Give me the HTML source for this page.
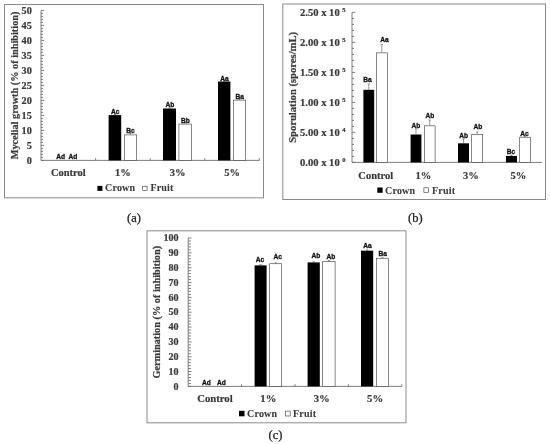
<!DOCTYPE html>
<html><head><meta charset="utf-8"><title>Figure</title>
<style>
html,body{margin:0;padding:0;background:#fff;}
svg{display:block;}
.b{font-family:"Liberation Serif",serif;font-weight:bold;fill:#3a3a3a;stroke:#3a3a3a;stroke-width:0.2px;}
.l{letter-spacing:0.2px;stroke-width:0.08px;}
.d{font-family:"Liberation Sans","DejaVu Sans",sans-serif;font-weight:bold;font-size:6.6px;fill:#111;stroke:#111;stroke-width:0.3px;}
.c{font-family:"Liberation Serif",serif;font-size:12.5px;fill:#222;stroke:#222;stroke-width:0.25px;}
</style></head><body>
<svg width="550" height="444" viewBox="0 0 550 444">
<rect width="550" height="444" fill="#fff"/>
<rect x="4.5" y="4.5" width="259" height="193.3" fill="#fff" stroke="#8a8a8a" stroke-width="1"/>
<path d="M41 10.4V160.4H259.4" fill="none" stroke="#6f6f6f" stroke-width="0.9"/>
<path d="M41 160.4h3.2M41 157.4h2M41 154.4h2M41 151.4h2M41 148.4h2M41 145.4h3.2M41 142.4h2M41 139.4h2M41 136.4h2M41 133.4h2M41 130.4h3.2M41 127.4h2M41 124.4h2M41 121.4h2M41 118.4h2M41 115.4h3.2M41 112.4h2M41 109.4h2M41 106.4h2M41 103.4h2M41 100.4h3.2M41 97.4h2M41 94.4h2M41 91.4h2M41 88.4h2M41 85.4h3.2M41 82.4h2M41 79.4h2M41 76.4h2M41 73.4h2M41 70.4h3.2M41 67.4h2M41 64.4h2M41 61.4h2M41 58.4h2M41 55.4h3.2M41 52.4h2M41 49.4h2M41 46.4h2M41 43.4h2M41 40.4h3.2M41 37.4h2M41 34.4h2M41 31.4h2M41 28.4h2M41 25.4h3.2M41 22.4h2M41 19.4h2M41 16.4h2M41 13.4h2M41 10.4h3.2M95.6 160.4v-2.2M150.2 160.4v-2.2M204.8 160.4v-2.2M259.4 160.4v-2.2" fill="none" stroke="#6f6f6f" stroke-width="0.9"/>
<text transform="translate(31.8 163.52) scale(1.1 1)" text-anchor="end" class="b" font-size="9.3">0</text>
<text transform="translate(31.8 148.52) scale(1.1 1)" text-anchor="end" class="b" font-size="9.3">5</text>
<text transform="translate(31.8 133.52) scale(1.1 1)" text-anchor="end" class="b" font-size="9.3">10</text>
<text transform="translate(31.8 118.52) scale(1.1 1)" text-anchor="end" class="b" font-size="9.3">15</text>
<text transform="translate(31.8 103.52) scale(1.1 1)" text-anchor="end" class="b" font-size="9.3">20</text>
<text transform="translate(31.8 88.52) scale(1.1 1)" text-anchor="end" class="b" font-size="9.3">25</text>
<text transform="translate(31.8 73.52) scale(1.1 1)" text-anchor="end" class="b" font-size="9.3">30</text>
<text transform="translate(31.8 58.52) scale(1.1 1)" text-anchor="end" class="b" font-size="9.3">35</text>
<text transform="translate(31.8 43.52) scale(1.1 1)" text-anchor="end" class="b" font-size="9.3">40</text>
<text transform="translate(31.8 28.52) scale(1.1 1)" text-anchor="end" class="b" font-size="9.3">45</text>
<text transform="translate(31.8 13.52) scale(1.1 1)" text-anchor="end" class="b" font-size="9.3">50</text>
<text transform="translate(18.1 85.4) rotate(-90) scale(1.05 1)" text-anchor="middle" class="b" font-size="9.8">Mycelial growth (% of inhibition)</text>
<rect x="108.6" y="115.1" width="12.6" height="45.3" fill="#000"/>
<rect x="124.3" y="134.9" width="12.4" height="25.5" fill="#fff" stroke="#3a3a3a" stroke-width="0.6"/>
<rect x="163" y="108.5" width="13" height="51.9" fill="#000"/>
<rect x="178.9" y="124.1" width="12.4" height="36.3" fill="#fff" stroke="#3a3a3a" stroke-width="0.6"/>
<rect x="218" y="81.5" width="12.4" height="78.9" fill="#000"/>
<rect x="233.3" y="100.1" width="12.4" height="60.3" fill="#fff" stroke="#3a3a3a" stroke-width="0.6"/>
<path d="M130.5 134.6V133.4M129.3 133.4h2.4M185.1 123.8V122.8M183.9 122.8h2.4M239.5 99.8V99M238.3 99h2.4M114.9 115.1V114.5M113.7 114.5h2.4M169.5 108.5V107.9M168.3 107.9h2.4M224.2 81.5V80.9M223 80.9h2.4" fill="none" stroke="#555" stroke-width="0.6"/>
<text x="60.7" y="159.2" text-anchor="middle" class="d">Ad</text>
<text x="73" y="159.2" text-anchor="middle" class="d">Ad</text>
<text x="115.2" y="114.2" text-anchor="middle" class="d">Ac</text>
<text x="130.4" y="133" text-anchor="middle" class="d">Bc</text>
<text x="169.8" y="107.4" text-anchor="middle" class="d">Ab</text>
<text x="185.4" y="122.6" text-anchor="middle" class="d">Bb</text>
<text x="224.4" y="80.6" text-anchor="middle" class="d">Aa</text>
<text x="239.6" y="98.8" text-anchor="middle" class="d">Ba</text>
<text transform="translate(68.3 176) scale(1.05 1)" text-anchor="middle" class="b" font-size="10">Control</text>
<text transform="translate(122.9 176) scale(1.05 1)" text-anchor="middle" class="b" font-size="10">1%</text>
<text transform="translate(177.5 176) scale(1.05 1)" text-anchor="middle" class="b" font-size="10">3%</text>
<text transform="translate(232.1 176) scale(1.05 1)" text-anchor="middle" class="b" font-size="10">5%</text>
<rect x="97.4" y="185.9" width="5" height="5" fill="#000"/>
<text x="105" y="191.3" class="b l" font-size="10">Crown</text>
<rect x="142.7" y="186.2" width="4.4" height="4.4" fill="#fff" stroke="#333" stroke-width="0.6"/>
<text x="150.4" y="191.3" class="b l" font-size="10">Fruit</text>
<text x="134" y="222.4" text-anchor="middle" class="c">(a)</text>
<rect x="282.8" y="4" width="262.7" height="195.5" fill="#fff" stroke="#8a8a8a" stroke-width="1"/>
<path d="M352 12.4V162.4H542" fill="none" stroke="#6f6f6f" stroke-width="0.9"/>
<path d="M352 162.4h3.2M352 156.4h2M352 150.4h2M352 144.4h2M352 138.4h2M352 132.4h3.2M352 126.4h2M352 120.4h2M352 114.4h2M352 108.4h2M352 102.4h3.2M352 96.4h2M352 90.4h2M352 84.4h2M352 78.4h2M352 72.4h3.2M352 66.4h2M352 60.4h2M352 54.4h2M352 48.4h2M352 42.4h3.2M352 36.4h2M352 30.4h2M352 24.4h2M352 18.4h2M352 12.4h3.2" fill="none" stroke="#6f6f6f" stroke-width="0.9"/>
<text transform="translate(345.6 165.75) scale(1.06 1)" text-anchor="end" class="b" font-size="10">0.00 x 10 <tspan font-size="6.2" dy="-3.6">0</tspan></text>
<text transform="translate(345.6 135.75) scale(1.06 1)" text-anchor="end" class="b" font-size="10">5.00 x 10 <tspan font-size="6.2" dy="-3.6">4</tspan></text>
<text transform="translate(345.6 105.75) scale(1.06 1)" text-anchor="end" class="b" font-size="10">1.00 x 10 <tspan font-size="6.2" dy="-3.6">5</tspan></text>
<text transform="translate(345.6 75.75) scale(1.06 1)" text-anchor="end" class="b" font-size="10">1.50 x 10 <tspan font-size="6.2" dy="-3.6">5</tspan></text>
<text transform="translate(345.6 45.75) scale(1.06 1)" text-anchor="end" class="b" font-size="10">2.00 x 10 <tspan font-size="6.2" dy="-3.6">5</tspan></text>
<text transform="translate(345.6 15.75) scale(1.06 1)" text-anchor="end" class="b" font-size="10">2.50 x 10 <tspan font-size="6.2" dy="-3.6">5</tspan></text>
<text transform="translate(296.2 87.4) rotate(-90) scale(1.02 1)" text-anchor="middle" class="b" font-size="10.4">Sporulation (spores/mL)</text>
<rect x="363.4" y="89.8" width="10.8" height="72.6" fill="#000"/>
<rect x="376.3" y="52.9" width="11.4" height="109.5" fill="#fff" stroke="#3a3a3a" stroke-width="0.6"/>
<rect x="410.6" y="134.5" width="10.8" height="27.9" fill="#000"/>
<rect x="424.3" y="125.8" width="10.8" height="36.6" fill="#fff" stroke="#3a3a3a" stroke-width="0.6"/>
<rect x="458" y="143.32" width="11" height="19.08" fill="#000"/>
<rect x="471.7" y="134.5" width="11" height="27.9" fill="#fff" stroke="#3a3a3a" stroke-width="0.6"/>
<rect x="506" y="155.92" width="11" height="6.48" fill="#000"/>
<rect x="519.7" y="137.2" width="10.8" height="25.2" fill="#fff" stroke="#3a3a3a" stroke-width="0.6"/>
<path d="M368.8 89.8V84M367.6 84h2.4M381.8 52.6V44.6M380.6 44.6h2.4M416 134.5V129M414.8 129h2.4M429.7 125.5V120M428.5 120h2.4M463.5 143.32V139M462.3 139h2.4M477.2 134.2V132M476 132h2.4M511.5 155.92V155.12M510.3 155.12h2.4M525 136.9V136.1M523.8 136.1h2.4" fill="none" stroke="#555" stroke-width="0.6"/>
<text x="367.4" y="82.4" text-anchor="middle" class="d">Ba</text>
<text x="384.4" y="42.4" text-anchor="middle" class="d">Aa</text>
<text x="416" y="128.4" text-anchor="middle" class="d">Ab</text>
<text x="430" y="118.2" text-anchor="middle" class="d">Ab</text>
<text x="463.6" y="138.4" text-anchor="middle" class="d">Ab</text>
<text x="478" y="129.4" text-anchor="middle" class="d">Ab</text>
<text x="511" y="154.4" text-anchor="middle" class="d">Bc</text>
<text x="524.4" y="135.6" text-anchor="middle" class="d">Ac</text>
<text transform="translate(375.75 178.9) scale(1.05 1)" text-anchor="middle" class="b" font-size="10">Control</text>
<text transform="translate(423.25 178.9) scale(1.05 1)" text-anchor="middle" class="b" font-size="10">1%</text>
<text transform="translate(470.75 178.9) scale(1.05 1)" text-anchor="middle" class="b" font-size="10">3%</text>
<text transform="translate(518.25 178.9) scale(1.05 1)" text-anchor="middle" class="b" font-size="10">5%</text>
<rect x="377.3" y="187.5" width="5.3" height="5.3" fill="#000"/>
<text x="385" y="193.7" class="b l" font-size="10">Crown</text>
<rect x="423.9" y="187.8" width="4.7" height="4.7" fill="#fff" stroke="#333" stroke-width="0.6"/>
<text x="432" y="193.7" class="b l" font-size="10">Fruit</text>
<text x="415.4" y="222.4" text-anchor="middle" class="c">(b)</text>
<rect x="147" y="230.8" width="259" height="192" fill="#fff" stroke="#8a8a8a" stroke-width="1"/>
<path d="M188.2 238V386.4H401.8" fill="none" stroke="#6f6f6f" stroke-width="0.9"/>
<path d="M188.2 386.4h3.3M188.2 383.43h2.7M188.2 380.46h2.7M188.2 377.5h2.7M188.2 374.53h2.7M188.2 371.56h3.3M188.2 368.59h2.7M188.2 365.62h2.7M188.2 362.66h2.7M188.2 359.69h2.7M188.2 356.72h3.3M188.2 353.75h2.7M188.2 350.78h2.7M188.2 347.82h2.7M188.2 344.85h2.7M188.2 341.88h3.3M188.2 338.91h2.7M188.2 335.94h2.7M188.2 332.98h2.7M188.2 330.01h2.7M188.2 327.04h3.3M188.2 324.07h2.7M188.2 321.1h2.7M188.2 318.14h2.7M188.2 315.17h2.7M188.2 312.2h3.3M188.2 309.23h2.7M188.2 306.26h2.7M188.2 303.3h2.7M188.2 300.33h2.7M188.2 297.36h3.3M188.2 294.39h2.7M188.2 291.42h2.7M188.2 288.46h2.7M188.2 285.49h2.7M188.2 282.52h3.3M188.2 279.55h2.7M188.2 276.58h2.7M188.2 273.62h2.7M188.2 270.65h2.7M188.2 267.68h3.3M188.2 264.71h2.7M188.2 261.74h2.7M188.2 258.78h2.7M188.2 255.81h2.7M188.2 252.84h3.3M188.2 249.87h2.7M188.2 246.9h2.7M188.2 243.94h2.7M188.2 240.97h2.7M188.2 238h3.3M241.6 386.4v-2.2M295 386.4v-2.2M348.4 386.4v-2.2M401.8 386.4v-2.2" fill="none" stroke="#6f6f6f" stroke-width="0.9"/>
<text transform="translate(178.6 389.62) scale(1.05 1)" text-anchor="end" class="b" font-size="9.6">0</text>
<text transform="translate(178.6 374.78) scale(1.05 1)" text-anchor="end" class="b" font-size="9.6">10</text>
<text transform="translate(178.6 359.94) scale(1.05 1)" text-anchor="end" class="b" font-size="9.6">20</text>
<text transform="translate(178.6 345.1) scale(1.05 1)" text-anchor="end" class="b" font-size="9.6">30</text>
<text transform="translate(178.6 330.26) scale(1.05 1)" text-anchor="end" class="b" font-size="9.6">40</text>
<text transform="translate(178.6 315.42) scale(1.05 1)" text-anchor="end" class="b" font-size="9.6">50</text>
<text transform="translate(178.6 300.58) scale(1.05 1)" text-anchor="end" class="b" font-size="9.6">60</text>
<text transform="translate(178.6 285.74) scale(1.05 1)" text-anchor="end" class="b" font-size="9.6">70</text>
<text transform="translate(178.6 270.9) scale(1.05 1)" text-anchor="end" class="b" font-size="9.6">80</text>
<text transform="translate(178.6 256.06) scale(1.05 1)" text-anchor="end" class="b" font-size="9.6">90</text>
<text transform="translate(178.6 241.22) scale(1.05 1)" text-anchor="end" class="b" font-size="9.6">100</text>
<text transform="translate(159.9 312.2) rotate(-90) scale(1.07 1)" text-anchor="middle" class="b" font-size="9.6">Germination (% of inhibition)</text>
<rect x="254.6" y="265.37" width="12" height="121.03" fill="#000"/>
<rect x="269.7" y="263.74" width="12" height="122.66" fill="#fff" stroke="#3a3a3a" stroke-width="0.6"/>
<rect x="307.6" y="262.4" width="12.2" height="124" fill="#000"/>
<rect x="322.7" y="261.37" width="12.4" height="125.03" fill="#fff" stroke="#3a3a3a" stroke-width="0.6"/>
<rect x="361" y="250.67" width="12.2" height="135.73" fill="#000"/>
<rect x="376.3" y="258.25" width="12.4" height="128.15" fill="#fff" stroke="#3a3a3a" stroke-width="0.6"/>
<path d="M260.6 265.37V264.67M259.4 264.67h2.4M275.7 263.44V262.74M274.5 262.74h2.4M313.7 262.4V261.7M312.5 261.7h2.4M328.9 261.07V260.37M327.7 260.37h2.4M367.1 250.67V249.97M365.9 249.97h2.4M382.5 257.95V257.25M381.3 257.25h2.4" fill="none" stroke="#555" stroke-width="0.6"/>
<text x="206.4" y="385" text-anchor="middle" class="d">Ad</text>
<text x="221.3" y="385" text-anchor="middle" class="d">Ad</text>
<text x="260" y="262.4" text-anchor="middle" class="d">Ac</text>
<text x="277.6" y="259" text-anchor="middle" class="d">Ac</text>
<text x="316" y="257.6" text-anchor="middle" class="d">Ab</text>
<text x="331" y="259" text-anchor="middle" class="d">Ab</text>
<text x="367.4" y="247.6" text-anchor="middle" class="d">Aa</text>
<text x="382.6" y="256" text-anchor="middle" class="d">Ba</text>
<text transform="translate(214.9 402) scale(1.07 1)" text-anchor="middle" class="b" font-size="10">Control</text>
<text transform="translate(268.3 402) scale(1.07 1)" text-anchor="middle" class="b" font-size="10">1%</text>
<text transform="translate(321.7 402) scale(1.07 1)" text-anchor="middle" class="b" font-size="10">3%</text>
<text transform="translate(375.1 402) scale(1.07 1)" text-anchor="middle" class="b" font-size="10">5%</text>
<rect x="239" y="410.8" width="5.5" height="5.5" fill="#000"/>
<text x="247" y="416.8" class="b l" font-size="10">Crown</text>
<rect x="285.3" y="411.1" width="4.9" height="4.9" fill="#fff" stroke="#333" stroke-width="0.6"/>
<text x="293" y="416.8" class="b l" font-size="10">Fruit</text>
<text x="275.5" y="439" text-anchor="middle" class="c">(c)</text>
</svg>
</body></html>
